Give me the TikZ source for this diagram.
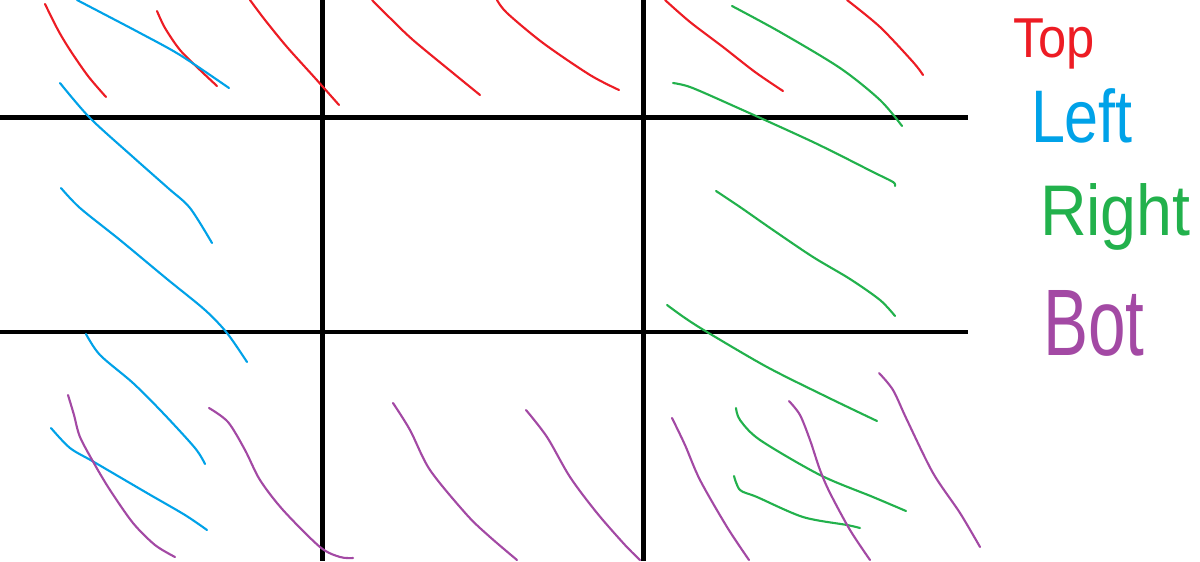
\documentclass[tikz,border=0pt]{standalone}
\usepackage{fontspec}
\setmainfont{Liberation Sans}
\definecolor{pRed}{RGB}{237,28,36}
\definecolor{pBlue}{RGB}{0,162,232}
\definecolor{pGreen}{RGB}{34,177,76}
\definecolor{pPurple}{RGB}{163,73,164}
\tikzset{
  gridline/.style={line width=3.1pt, black},
  stroke/.style={line width=1.5pt, line cap=round, line join=round},
  topst/.style={stroke, pRed},
  leftst/.style={stroke, pBlue},
  rightst/.style={stroke, pGreen},
  botst/.style={stroke, pPurple},
  word/.style={anchor=base west, inner sep=0pt, outer sep=0pt}
}
\begin{document}
\begin{tikzpicture}[x=0.025cm,y=-0.025cm]
\useasboundingbox[fill=white] (0,0) rectangle (1200,561);
% grid
\coordinate (h1a) at (0,117.5); \coordinate (h1b) at (968,117.5);
\coordinate (h2a) at (0,332); \coordinate (h2b) at (968,332);
\coordinate (v1a) at (322.5,0); \coordinate (v1b) at (322.5,561);
\coordinate (v2a) at (643.5,0); \coordinate (v2b) at (643.5,561);
\draw[gridline] (h1a) -- (h1b);
\draw[gridline] (h2a) -- (h2b);
\draw[gridline] (v1a) -- (v1b);
\draw[gridline] (v2a) -- (v2b);
% red (top)
\draw[topst] plot[smooth] coordinates {(45,4) (58,30) (70,50) (88,76) (106,97)};
\draw[topst] plot[smooth] coordinates {(157,11) (165,28) (180,50) (200,70) (217,86)};
\draw[topst] plot[smooth] coordinates {(250,0) (265,20) (287,47) (315,78) (339,105)};
\draw[topst] plot[smooth] coordinates {(372,0) (390,18) (413,40) (453,73) (480,95)};
\draw[topst] plot[smooth] coordinates {(497,0) (507,13) (543,43) (590,75) (619,90)};
\draw[topst] plot[smooth] coordinates {(665,0) (690,22) (723,47) (755,72) (783,91)};
\draw[topst] plot[smooth] coordinates {(847,0) (880,27) (913,62) (923,75)};
% blue (left)
\draw[leftst] plot[smooth] coordinates {(77,0) (100,12) (140,33) (180,55) (229,88)};
\draw[leftst] plot[smooth] coordinates {(60,83) (90,118) (133,157) (168,188) (190,208) (212,243)};
\draw[leftst] plot[smooth] coordinates {(61,188) (80,208) (120,240) (167,279) (205,310) (227,333) (247,362)};
\draw[leftst] plot[smooth] coordinates {(86,334) (100,355) (133,383) (163,413) (195,448) (205,464)};
\draw[leftst] plot[smooth] coordinates {(51,428) (70,448) (94,462) (147,493) (185,515) (207,530)};
% green (right)
\draw[rightst] plot[smooth] coordinates {(732,6) (780,32) (840,68) (880,100) (902,126)};
\draw[rightst] plot[smooth] coordinates {(673,83) (690,87) (727,103) (813,142) (873,172) (893,182) (895,186)};
\draw[rightst] plot[smooth] coordinates {(716,191) (740,207) (773,230) (813,257) (850,279) (880,300) (895,316)};
\draw[rightst] plot[smooth] coordinates {(667,305) (685,318) (707,332) (767,367) (827,397) (877,421)};
\draw[rightst] plot[smooth] coordinates {(736,408) (740,420) (760,440) (820,475) (873,497) (906,511)};
\draw[rightst] plot[smooth] coordinates {(734,476) (740,490) (757,497) (803,517) (847,525) (860,528)};
% purple (bot)
\draw[botst] plot[smooth] coordinates {(68,395) (74,415) (80,437) (95,465) (110,490) (133,523) (155,545) (175,557)};
\draw[botst] plot[smooth] coordinates {(209,408) (228,422) (245,450) (260,480) (283,510) (320,547) (340,557) (353,558)};
\draw[botst] plot[smooth] coordinates {(393,403) (410,430) (430,470) (467,515) (490,537) (517,560)};
\draw[botst] plot[smooth] coordinates {(526,410) (547,437) (570,477) (597,513) (625,545) (640,560)};
\draw[botst] plot[smooth] coordinates {(672,418) (685,445) (700,480) (727,527) (749,560)};
\draw[botst] plot[smooth] coordinates {(789,401) (800,415) (810,440) (820,470) (830,493) (850,530) (870,560)};
\draw[botst] plot[smooth] coordinates {(879,373) (893,390) (907,420) (933,473) (960,513) (980,547)};
% legend words
\node[word, font=\fontsize{40}{40}\selectfont, text=pRed, xscale=0.9] (wtop) at (1013,57) {Top};
\node[word, font=\fontsize{53}{53}\selectfont, text=pBlue, xscale=0.82] (wleft) at (1031,142) {Left};
\node[word, font=\fontsize{51}{51}\selectfont, text=pGreen, xscale=0.9] (wright) at (1040,235) {Right};
\node[word, font=\fontsize{60}{60}\selectfont, text=pPurple, xscale=0.8, yscale=1.12] (wbot) at (1043,355) {Bot};
\end{tikzpicture}
\end{document}
